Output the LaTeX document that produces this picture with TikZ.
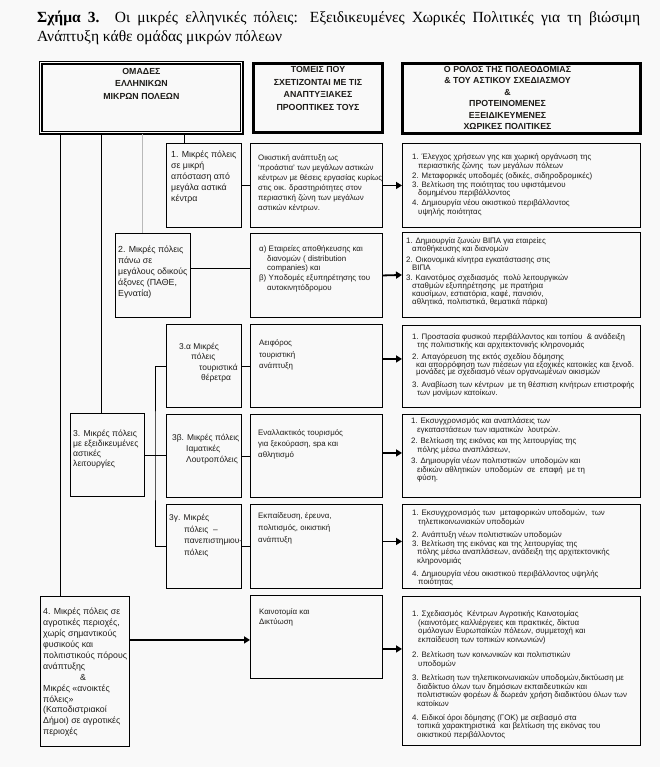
\documentclass[tikz,border=0pt]{standalone}
\usepackage{fontspec}
\setmainfont{Liberation Sans}
\newfontfamily\titlefont{Liberation Serif}
\usetikzlibrary{arrows.meta,calc}
\newcommand\myfs[2]{\fontsize{#1}{#2}\selectfont}
\definecolor{ink}{RGB}{30,28,25}
\definecolor{paper}{RGB}{249,249,249}
\begin{document}
\begin{tikzpicture}[x=1pt,y=-1pt,
  box/.style={draw=black, line width=0.9pt, inner sep=0pt, anchor=north west},
  hdrbox/.style={draw=black, line width=3pt, inner sep=0pt, anchor=north west},
  txt/.style={anchor=north west, inner sep=0pt, align=left, text=ink},
  htxt/.style={anchor=north, inner sep=0pt, align=center, text=ink},
  link/.style={draw=black, line width=0.9pt},
  arr/.style={draw=black, line width=1.8pt, -{Triangle[length=6pt,width=7pt]}},
]
\useasboundingbox (0,0) rectangle (660,767);
\fill[paper] (0,0) rectangle (660,767);

% title
\node[anchor=north west, inner sep=0pt, text width=603pt, align=justify, text=black,
  font=\titlefont\myfs{15.5}{19}] (title) at (37,11)
  {\textbf{Σχήμα 3.} Οι μικρές ελληνικές πόλεις: Εξειδικευμένες Χωρικές Πολιτικές για τη βιώσιμη\linebreak Ανάπτυξη κάθε ομάδας μικρών πόλεων};

% header boxes
\node[box, draw=black, line width=1.8pt, double=white, double distance=0.9pt, minimum width=201pt, minimum height=70pt] (hA) at (40,62) {};
\node[hdrbox, minimum width=129pt, minimum height=69pt] (hB) at (252,62) {};
\node[hdrbox, minimum width=238pt, minimum height=70pt] (hC) at (401,62) {};
\node[htxt, font=\myfs{8.8}{12.5}\bfseries] (hAt) at ([shift={(0,6)}]hA.north) {ΟΜΑΔΕΣ\\ΕΛΛΗΝΙΚΩΝ\\ΜΙΚΡΩΝ ΠΟΛΕΩΝ};
\node[htxt, font=\myfs{8.8}{12.7}\bfseries] (hBt) at ([shift={(0,4)}]hB.north) {ΤΟΜΕΙΣ ΠΟΥ\\ΣΧΕΤΙΖΟΝΤΑΙ ΜΕ ΤΙΣ\\ΑΝΑΠΤΥΞΙΑΚΕΣ\\ΠΡΟΟΠΤΙΚΕΣ ΤΟΥΣ};
\node[htxt, font=\myfs{8.8}{11.5}\bfseries] (hCt) at ([shift={(-14,4)}]hC.north) {Ο ΡΟΛΟΣ ΤΗΣ ΠΟΛΕΟΔΟΜΙΑΣ\\\& ΤΟΥ ΑΣΤΙΚΟΥ ΣΧΕΔΙΑΣΜΟΥ\\\&\\ΠΡΟΤΕΙΝΟΜΕΝΕΣ\\ΕΞΕΙΔΙΚΕΥΜΕΝΕΣ\\ΧΩΡΙΚΕΣ ΠΟΛΙΤΙΚΕΣ};

% row boxes
\node[box, minimum width=75pt,  minimum height=84pt]  (b1)  at (166,143) {};
\node[box, minimum width=132pt, minimum height=84pt]  (s1)  at (250,143) {};
\node[box, minimum width=238pt, minimum height=84pt]  (c1)  at (402,143) {};
\node[box, minimum width=75pt,  minimum height=84pt]  (b2)  at (115,233) {};
\node[box, minimum width=132pt, minimum height=84pt]  (s2)  at (250,233) {};
\node[box, minimum width=238pt, minimum height=85pt]  (c2)  at (402,232) {};
\node[box, minimum width=75pt,  minimum height=83pt]  (t3a) at (166,324) {};
\node[box, minimum width=132pt, minimum height=83pt]  (s3a) at (250,324) {};
\node[box, minimum width=238pt, minimum height=82pt]  (c3a) at (402,325) {};
\node[box, minimum width=74pt,  minimum height=83pt]  (b3)  at (70,413) {};
\node[box, minimum width=75pt,  minimum height=83pt]  (t3b) at (166,414) {};
\node[box, minimum width=132pt, minimum height=83pt]  (s3b) at (250,414) {};
\node[box, minimum width=238pt, minimum height=83pt]  (c3b) at (402,414) {};
\node[box, minimum width=75pt,  minimum height=84pt]  (t3c) at (166,504) {};
\node[box, minimum width=132pt, minimum height=84pt]  (s3c) at (250,504) {};
\node[box, minimum width=238pt, minimum height=84pt]  (c3c) at (402,504) {};
\node[box, minimum width=89pt,  minimum height=150pt] (b4)  at (40,596) {};
\node[box, minimum width=132pt, minimum height=83pt]  (s4)  at (250,595) {};
\node[box, minimum width=238pt, minimum height=149pt] (c4)  at (402,596) {};

% left column texts
\node[txt, font=\myfs{8.8}{11}] (b1t) at ([shift={(5,8)}]b1.north west)
  {1. Μικρές πόλεις\\σε μικρή\\απόσταση από\\μεγάλα αστικά\\κέντρα};
\node[txt, font=\myfs{8.8}{11}] (b2t) at ([shift={(3,13)}]b2.north west)
  {2. Μικρές πόλεις\\πάνω σε\\μεγάλους οδικούς\\άξονες (ΠΑΘΕ,\\Εγνατία)};
\node[txt, font=\myfs{8.4}{10.3}] (t3at) at ([shift={(13,19)}]t3a.north west)
  {3.α Μικρές\\\hspace*{12pt}πόλεις\\\hspace*{20pt}τουριστικά\\\hspace*{22pt}θέρετρα};
\node[txt, font=\myfs{8.6}{10}] (b3t) at ([shift={(3,17)}]b3.north west)
  {3. Μικρές πόλεις\\με εξειδικευμένες\\αστικές\\λειτουργίες};
\node[txt, font=\myfs{8.4}{11}] (t3bt) at ([shift={(6,20)}]t3b.north west)
  {3β. Μικρές πόλεις\\\hspace*{14pt}Ιαματικές\\\hspace*{14pt}Λουτροπόλεις};
\node[txt, font=\myfs{8.4}{11.7}] (t3ct) at ([shift={(3,10)}]t3c.north west)
  {3γ. Μικρές\\\hspace*{15pt}πόλεις~~--\\\hspace*{15pt}πανεπιστημιου-\\\hspace*{15pt}πόλεις};
\node[txt, font=\myfs{8.8}{10.9}] (b4t) at ([shift={(3,12)}]b4.north west)
  {4. Μικρές πόλεις σε\\αγροτικές περιοχές,\\χωρίς σημαντικούς\\φυσικούς και\\πολιτιστικούς πόρους\\ανάπτυξης\\\hspace*{37pt}\&\\Μικρές «ανοικτές\\πόλεις»\\(Καποδιστριακοί\\Δήμοι) σε αγροτικές\\περιοχές};

% sector texts
\node[txt, font=\myfs{7.9}{10}] (s1t) at ([shift={(8,11.6)}]s1.north west)
  {Οικιστική ανάπτυξη ως\\`προάστια' των μεγάλων αστικών\\κέντρων με θέσεις εργασίας κυρίως\\στις οικ. δραστηριότητες στον\\περιαστική ζώνη των μεγάλων\\αστικών κέντρων.};
\node[txt, font=\myfs{7.9}{9.6}] (s2t) at ([shift={(9,12.6)}]s2.north west)
  {α) Εταιρείες αποθήκευσης και\\\hspace*{8pt}διανομών ( distribution\\\hspace*{8pt}companies) και\\β) Υποδομές εξυπηρέτησης του\\\hspace*{8pt}αυτοκινητόδρομου};
\node[txt, font=\myfs{7.9}{11.5}] (s3at) at ([shift={(9,15.6)}]s3a.north west)
  {Αειφόρος\\τουριστική\\ανάπτυξη};
\node[txt, font=\myfs{7.9}{11}] (s3bt) at ([shift={(8,15.6)}]s3b.north west)
  {Εναλλακτικός τουρισμός\\για ξεκούραση, spa και\\αθλητισμό};
\node[txt, font=\myfs{7.9}{12}] (s3ct) at ([shift={(8,8.6)}]s3c.north west)
  {Εκπαίδευση, έρευνα,\\πολιτισμός, οικιστική\\ανάπτυξη};
\node[txt, font=\myfs{7.9}{10}] (s4t) at ([shift={(9,13.6)}]s4.north west)
  {Καινοτομία και\\Δικτύωση};

% policy texts
\node[txt, font=\myfs{7.9}{7.5}] (c1t) at ([shift={(10,10.6)}]c1.north west)
  {1. Έλεγχος χρήσεων γης και χωρική οργάνωση της\\\hspace*{6pt}περιαστικής ζώνης~ των μεγάλων πόλεων\\[1.5pt]
   2. Μεταφορικές υποδομές (οδικές, σιδηροδρομικές)\\
   3. Βελτίωση της ποιότητας του υφιστάμενου\\\hspace*{6pt}δομημένου περιβάλλοντος\\[1.5pt]
   4. Δημιουργία νέου οικιστικού περιβάλλοντος\\\hspace*{6pt}υψηλής ποιότητας};
\node[txt, font=\myfs{7.9}{7.8}] (c2t) at ([shift={(4,5.6)}]c2.north west)
  {1. Δημιουργία ζωνών ΒΙΠΑ για εταιρείες\\\hspace*{6pt}αποθήκευσης και διανομών\\[3pt]
   2. Οικονομικά κίνητρα εγκατάστασης στις\\\hspace*{6pt}ΒΙΠΑ\\[3pt]
   3. Καινοτόμος σχεδιασμός~ πολύ λειτουργικών\\\hspace*{6pt}σταθμών εξυπηρέτησης~ με πρατήρια\\\hspace*{6pt}καυσίμων, εστιατόρια, καφέ, πανσιόν,\\\hspace*{6pt}αθλητικά, πολιτιστικά, θεματικά πάρκα)};
\node[txt, font=\myfs{7.9}{7.8}] (c3at) at ([shift={(10,8.6)}]c3a.north west)
  {1. Προστασία φυσικού περιβάλλοντος και τοπίου~ \& ανάδειξη\\\hspace*{5pt}της πολιτιστικής και αρχιτεκτονικής κληρονομιάς\\[4pt]
   2. Απαγόρευση της εκτός σχεδίου δόμησης\\\hspace*{4pt}και απορρόφηση των πιέσεων για εξοχικές κατοικίες και ξενοδ.\\\hspace*{4pt}μονάδες με σχεδιασμό νέων οργανωμένων οικισμών\\[4.5pt]
   3. Αναβίωση των κέντρων~ με τη θέσπιση κινήτρων επιστροφής\\\hspace*{5pt}των μονίμων κατοίκων.};
\node[txt, font=\myfs{7.9}{8.5}] (c3bt) at ([shift={(9,3.6)}]c3b.north west)
  {1. Εκσυγχρονισμός και αναπλάσεις των\\\hspace*{6pt}εγκαταστάσεων των ιαματικών~ λουτρών.\\[3pt]
   2. Βελτίωση της εικόνας και της λειτουργίας της\\\hspace*{6pt}πόλης μέσω αναπλάσεων,\\[3pt]
   3. Δημιουργία νέων πολιτιστικών~ υποδομών και\\\hspace*{6pt}ειδικών αθλητικών~ υποδομών~ σε~ επαφή~ με τη\\\hspace*{6pt}φύση.};
\node[txt, font=\myfs{7.9}{7.2}] (c3ct) at ([shift={(10,5.6)}]c3c.north west)
  {1. Εκσυγχρονισμός των~ μεταφορικών υποδομών,~ των\\\hspace*{6pt}τηλεπικοινωνιακών υποδομών\\[4.5pt]
   2. Ανάπτυξη νέων πολιτιστικών υποδομών\\
   3. Βελτίωση της εικόνας και της λειτουργίας της\\\hspace*{5pt}πόλης μέσω αναπλάσεων, ανάδειξη της αρχιτεκτονικής\\\hspace*{5pt}κληρονομιάς\\[4.5pt]
   4. Δημιουργία νέου οικιστικού περιβάλλοντος υψηλής\\\hspace*{6pt}ποιότητας};
\node[txt, font=\myfs{7.9}{7.4}] (c4t) at ([shift={(10,14.6)}]c4.north west)
  {1. Σχεδιασμός~ Κέντρων Αγροτικής Καινοτομίας\\\hspace*{6pt}(καινοτόμες καλλιέργειες και πρακτικές, δίκτυα\\\hspace*{6pt}ομόλογων Ευρωπαϊκών πόλεων, συμμετοχή και\\\hspace*{6pt}εκπαίδευση των τοπικών κοινωνιών)\\[6.5pt]
   2. Βελτίωση των κοινωνικών και πολιτιστικών\\\hspace*{6pt}υποδομών\\[6pt]
   3. Βελτίωση των τηλεπικοινωνιακών υποδομών,δικτύωση με\\\hspace*{5pt}διαδίκτυο όλων των δημόσιων εκπαιδευτικών και\\\hspace*{5pt}πολιτιστικών φορέων \& δωρεάν χρήση διαδικτύου όλων των\\\hspace*{5pt}κατοίκων\\[6.5pt]
   4. Ειδικοί όροι δόμησης (ΓΟΚ) με σεβασμό στα\\\hspace*{5pt}τοπικά χαρακτηριστικά~ και βελτίωση της εικόνας του\\\hspace*{5pt}οικιστικού περιβάλλοντος};

% trunk lines from the header
\coordinate (xa) at (60,0);
\coordinate (xb) at (101,0);
\coordinate (xc) at (142,0);
\coordinate (xd) at (184,0);
\coordinate (xj) at (155,0);
\draw[link] (hA.south -| xa) -- (b4.north -| xa);
\draw[link] (hA.south -| xb) -- (b3.north -| xb);
\draw[link, draw=gray!55] (hA.south -| xc) -- (b2.north -| xc);
\draw[link] (hA.south -| xd) -- (b1.north -| xd);

% links between group and sector boxes
\draw[link] (b1.east) -- (s1.west);
\draw[link] ([yshift=7pt]b2.east) -- ([yshift=7pt]s2.west);
\draw[link] (t3a.west) -| (xj |- b3.east) |- (t3c.west);
\draw[link] (b3.east) -- (b3.east -| t3b.west);
\draw[link] (t3a.east) -- (s3a.west);
\draw[link] (t3b.east) -- (s3b.west);
\draw[link] (t3c.east) -- (s3c.west);

% arrows to policy boxes
\draw[arr] (s1.east) -- (c1.west);
\draw[arr] (s2.east) -- (c2.west);
\draw[arr] ([yshift=7pt]s3a.east) -- ([yshift=7pt]s3a.east -| c3a.west);
\draw[arr] ([yshift=3pt]s3b.east) -- ([yshift=3pt]s3b.east -| c3b.west);
\draw[arr] ([yshift=5pt]s3c.east) -- ([yshift=5pt]s3c.east -| c3c.west);
\draw[arr] ([yshift=-12pt]s4.east) -- ([yshift=-12pt]s4.east -| c4.west);
\draw[arr] ([yshift=-3pt]s4.west -| b4.east) -- ([yshift=-3pt]s4.west);
\end{tikzpicture}
\end{document}
